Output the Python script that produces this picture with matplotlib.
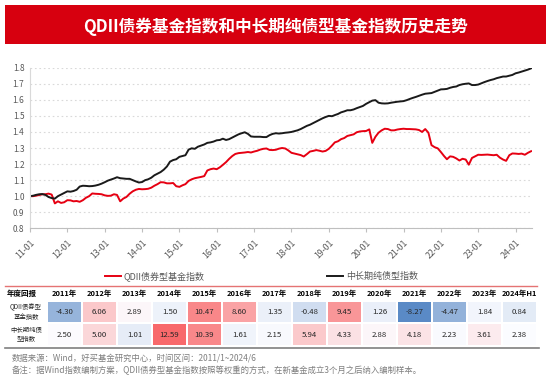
import numpy as np
import pandas as pd
import matplotlib
matplotlib.use('Agg')
import matplotlib.pyplot as plt
import matplotlib.dates as mdates
from matplotlib.colors import LinearSegmentedColormap, TwoSlopeNorm
from matplotlib.patches import Rectangle

plt.rcParams['font.family'] = ['Noto Sans CJK SC', 'DejaVu Sans']

# monthly index values 2011-01 .. 2024-06
months = pd.date_range('2011-01-01', '2024-06-01', freq='MS')

qdii = [1.000, 1.000, 1.003, 1.007, 1.012, 1.012, 1.016, 1.010, 0.955, 0.968,
        0.958, 0.962, 0.975, 0.974, 0.968, 0.970, 0.965, 0.975, 0.990, 1.000,
        1.017, 1.015, 1.014, 1.012, 1.005, 1.002, 1.003, 1.012, 1.008, 0.968,
        0.985, 0.995, 1.015, 1.030, 1.040, 1.045, 1.043, 1.044, 1.046, 1.053,
        1.065, 1.075, 1.087, 1.086, 1.080, 1.080, 1.082, 1.062, 1.058, 1.068,
        1.075, 1.095, 1.105, 1.112, 1.116, 1.120, 1.125, 1.160, 1.168, 1.172,
        1.168, 1.180, 1.195, 1.212, 1.232, 1.250, 1.263, 1.268, 1.270, 1.272,
        1.275, 1.272, 1.278, 1.283, 1.290, 1.295, 1.297, 1.288, 1.287, 1.289,
        1.296, 1.300, 1.297, 1.285, 1.270, 1.265, 1.260, 1.256, 1.247, 1.262,
        1.278, 1.282, 1.287, 1.283, 1.278, 1.282, 1.295, 1.315, 1.335, 1.342,
        1.355, 1.362, 1.375, 1.380, 1.385, 1.398, 1.403, 1.405, 1.406, 1.416,
        1.332, 1.370, 1.395, 1.410, 1.420, 1.418, 1.410, 1.410, 1.415, 1.418,
        1.420, 1.418, 1.418, 1.417, 1.416, 1.412, 1.400, 1.418, 1.395, 1.318,
        1.305, 1.298, 1.275, 1.250, 1.230, 1.248, 1.245, 1.235, 1.222, 1.233,
        1.228, 1.196, 1.238, 1.248, 1.258, 1.257, 1.258, 1.259, 1.257, 1.255,
        1.258, 1.240, 1.228, 1.220, 1.255, 1.266, 1.265, 1.263, 1.265, 1.258,
        1.270, 1.280]

pure_bond = [1.000, 1.003, 1.008, 1.012, 1.013, 1.008, 0.995, 0.988, 0.985, 1.000,
             1.010, 1.020, 1.030, 1.028, 1.032, 1.040, 1.060, 1.065, 1.064, 1.062,
             1.063, 1.066, 1.071, 1.078, 1.087, 1.097, 1.103, 1.110, 1.118, 1.112,
             1.110, 1.108, 1.108, 1.100, 1.092, 1.085, 1.088, 1.100, 1.105, 1.115,
             1.130, 1.140, 1.150, 1.165, 1.185, 1.215, 1.225, 1.230, 1.245, 1.250,
             1.255, 1.290, 1.298, 1.295, 1.308, 1.315, 1.322, 1.332, 1.335, 1.340,
             1.348, 1.350, 1.358, 1.350, 1.355, 1.365, 1.375, 1.385, 1.392, 1.398,
             1.388, 1.372, 1.370, 1.370, 1.370, 1.368, 1.368, 1.380, 1.388, 1.392,
             1.390, 1.392, 1.395, 1.397, 1.400, 1.405, 1.410, 1.418, 1.428, 1.438,
             1.445, 1.455, 1.465, 1.475, 1.485, 1.493, 1.500, 1.498, 1.505, 1.512,
             1.522, 1.528, 1.535, 1.535, 1.540, 1.548, 1.555, 1.562, 1.575, 1.585,
             1.595, 1.598, 1.582, 1.578, 1.577, 1.578, 1.582, 1.585, 1.588, 1.590,
             1.592, 1.598, 1.605, 1.612, 1.618, 1.625, 1.632, 1.638, 1.640, 1.642,
             1.650, 1.658, 1.665, 1.666, 1.668, 1.675, 1.680, 1.683, 1.692, 1.697,
             1.700, 1.702, 1.692, 1.692, 1.695, 1.703, 1.710, 1.717, 1.723, 1.728,
             1.735, 1.740, 1.745, 1.745, 1.750, 1.755, 1.765, 1.770, 1.776, 1.782,
             1.788, 1.796]

# annual returns table
years = ['2011年', '2012年', '2013年', '2014年', '2015年', '2016年', '2017年',
         '2018年', '2019年', '2020年', '2021年', '2022年', '2023年', '2024年H1']
qdii_ret = [-4.30, 6.06, 2.89, 1.50, 10.47, 8.60, 1.35, -0.48, 9.45, 1.26,
            -8.27, -4.47, 1.84, 0.84]
bond_ret = [2.50, 5.00, 1.01, 12.59, 10.39, 1.61, 2.15, 5.94, 4.33, 2.88,
            4.18, 2.23, 3.61, 2.38]
row_names = ['QDII债券型\n基金指数', '中长期纯债\n型指数']

title = 'QDII债券基金指数和中长期纯债型基金指数历史走势'
note1 = '数据来源：Wind，好买基金研究中心，时间区间：2011/1~2024/6'
note2 = '备注：据Wind指数编制方案，QDII债券型基金指数按照等权重的方式，在新基金成立3个月之后纳入编制样本。'

W, H = 550, 378
fig = plt.figure(figsize=(W / 100, H / 100), dpi=100)

def fx(x):
    return x / W

def fy(y):
    return 1 - y / H

# title bar
fig.patches.append(Rectangle((fx(5), fy(44)), fx(541), 39 / H, transform=fig.transFigure,
                             facecolor='#D7000F', edgecolor='none'))
fig.text(fx(275), fy(27), title, ha='center', va='center', color='white',
         fontsize=12, fontweight='bold')

# line chart
ax = fig.add_axes([fx(30), fy(228.3), fx(502), 160.6 / H])
ax.plot(months, qdii, color='#E60012', lw=1.4, label='QDII债券型基金指数')
ax.plot(months, pure_bond, color='#1A1A1A', lw=1.4, label='中长期纯债型指数')
ax.set_ylim(0.8, 1.8)
ax.set_yticks(np.arange(0.8, 1.81, 0.1))
ax.yaxis.set_major_formatter(plt.FormatStrFormatter('%.1f'))
ax.set_xlim(months[0], pd.Timestamp('2024-06-10'))
ax.xaxis.set_major_locator(mdates.YearLocator())
ax.xaxis.set_major_formatter(mdates.DateFormatter('%y-%m'))
ax.grid(axis='y', linestyle=(0, (1.5, 2.5)), color='#D9D9D9', lw=0.8)
for s in ['top', 'right']:
    ax.spines[s].set_visible(False)
ax.spines['left'].set_color('#D9D9D9')
ax.spines['bottom'].set_color('#BFBFBF')
ax.tick_params(axis='y', length=0, labelsize=6, labelcolor='#595959', pad=4)
ax.tick_params(axis='x', length=3, color='#BFBFBF', labelsize=6.3, labelcolor='#595959', pad=4)
for lab in ax.get_xticklabels():
    lab.set_rotation(45)
    lab.set_ha('right')
    lab.set_va('top')
    lab.set_rotation_mode('anchor')

fig.legend(loc='center left', bbox_to_anchor=(fx(105), fy(276)), ncol=2, frameon=False,
           fontsize=6.5, handlelength=1.8, handletextpad=0.3, columnspacing=13.5,
           borderpad=0, borderaxespad=0, labelcolor='#595959')

# table
vals = np.array([qdii_ret, bond_ret])
cmap = LinearSegmentedColormap.from_list('rwb', ['#5A8AC6', '#FCFCFF', '#F8696B'])
norm = TwoSlopeNorm(vmin=vals.min(), vcenter=np.median(vals), vmax=vals.max())
tax = fig.add_axes([fx(47), fy(346), fx(490), 45.5 / H])
tax.pcolormesh(vals, cmap=cmap, norm=norm, edgecolors='white', linewidth=1.2)
tax.set_xlim(0, 14)
tax.set_ylim(2, 0)
tax.axis('off')
for i in range(2):
    for j in range(14):
        tax.text(j + 0.5, i + 0.5, f'{vals[i, j]:.2f}', ha='center', va='center',
                 fontsize=5.6, color='#262626')
for j, yr in enumerate(years):
    tax.text(j + 0.5, -0.3, yr, ha='center', va='center', fontsize=5.4,
             fontweight='bold', color='black')
tax.text(-0.72, -0.3, '年度回报', ha='center', va='center', fontsize=5.4,
         fontweight='bold', color='black')
for i, name in enumerate(row_names):
    tax.text(-0.6, i + 0.5, name, ha='center', va='center', fontsize=4.6,
             color='#262626', linespacing=1.25)
tax.plot([-1.2, 14], [-0.64, -0.64], color='#E57373', lw=1, clip_on=False)
tax.plot([-1.2, 14.05], [2.09, 2.09], color='#7F7F7F', lw=1.2, clip_on=False)

fig.text(fx(12), fy(358), note1, ha='left', va='center', fontsize=6, color='#7F7F7F')
fig.text(fx(12), fy(370), note2, ha='left', va='center', fontsize=6, color='#7F7F7F')

fig.savefig('out.png', dpi=100)
